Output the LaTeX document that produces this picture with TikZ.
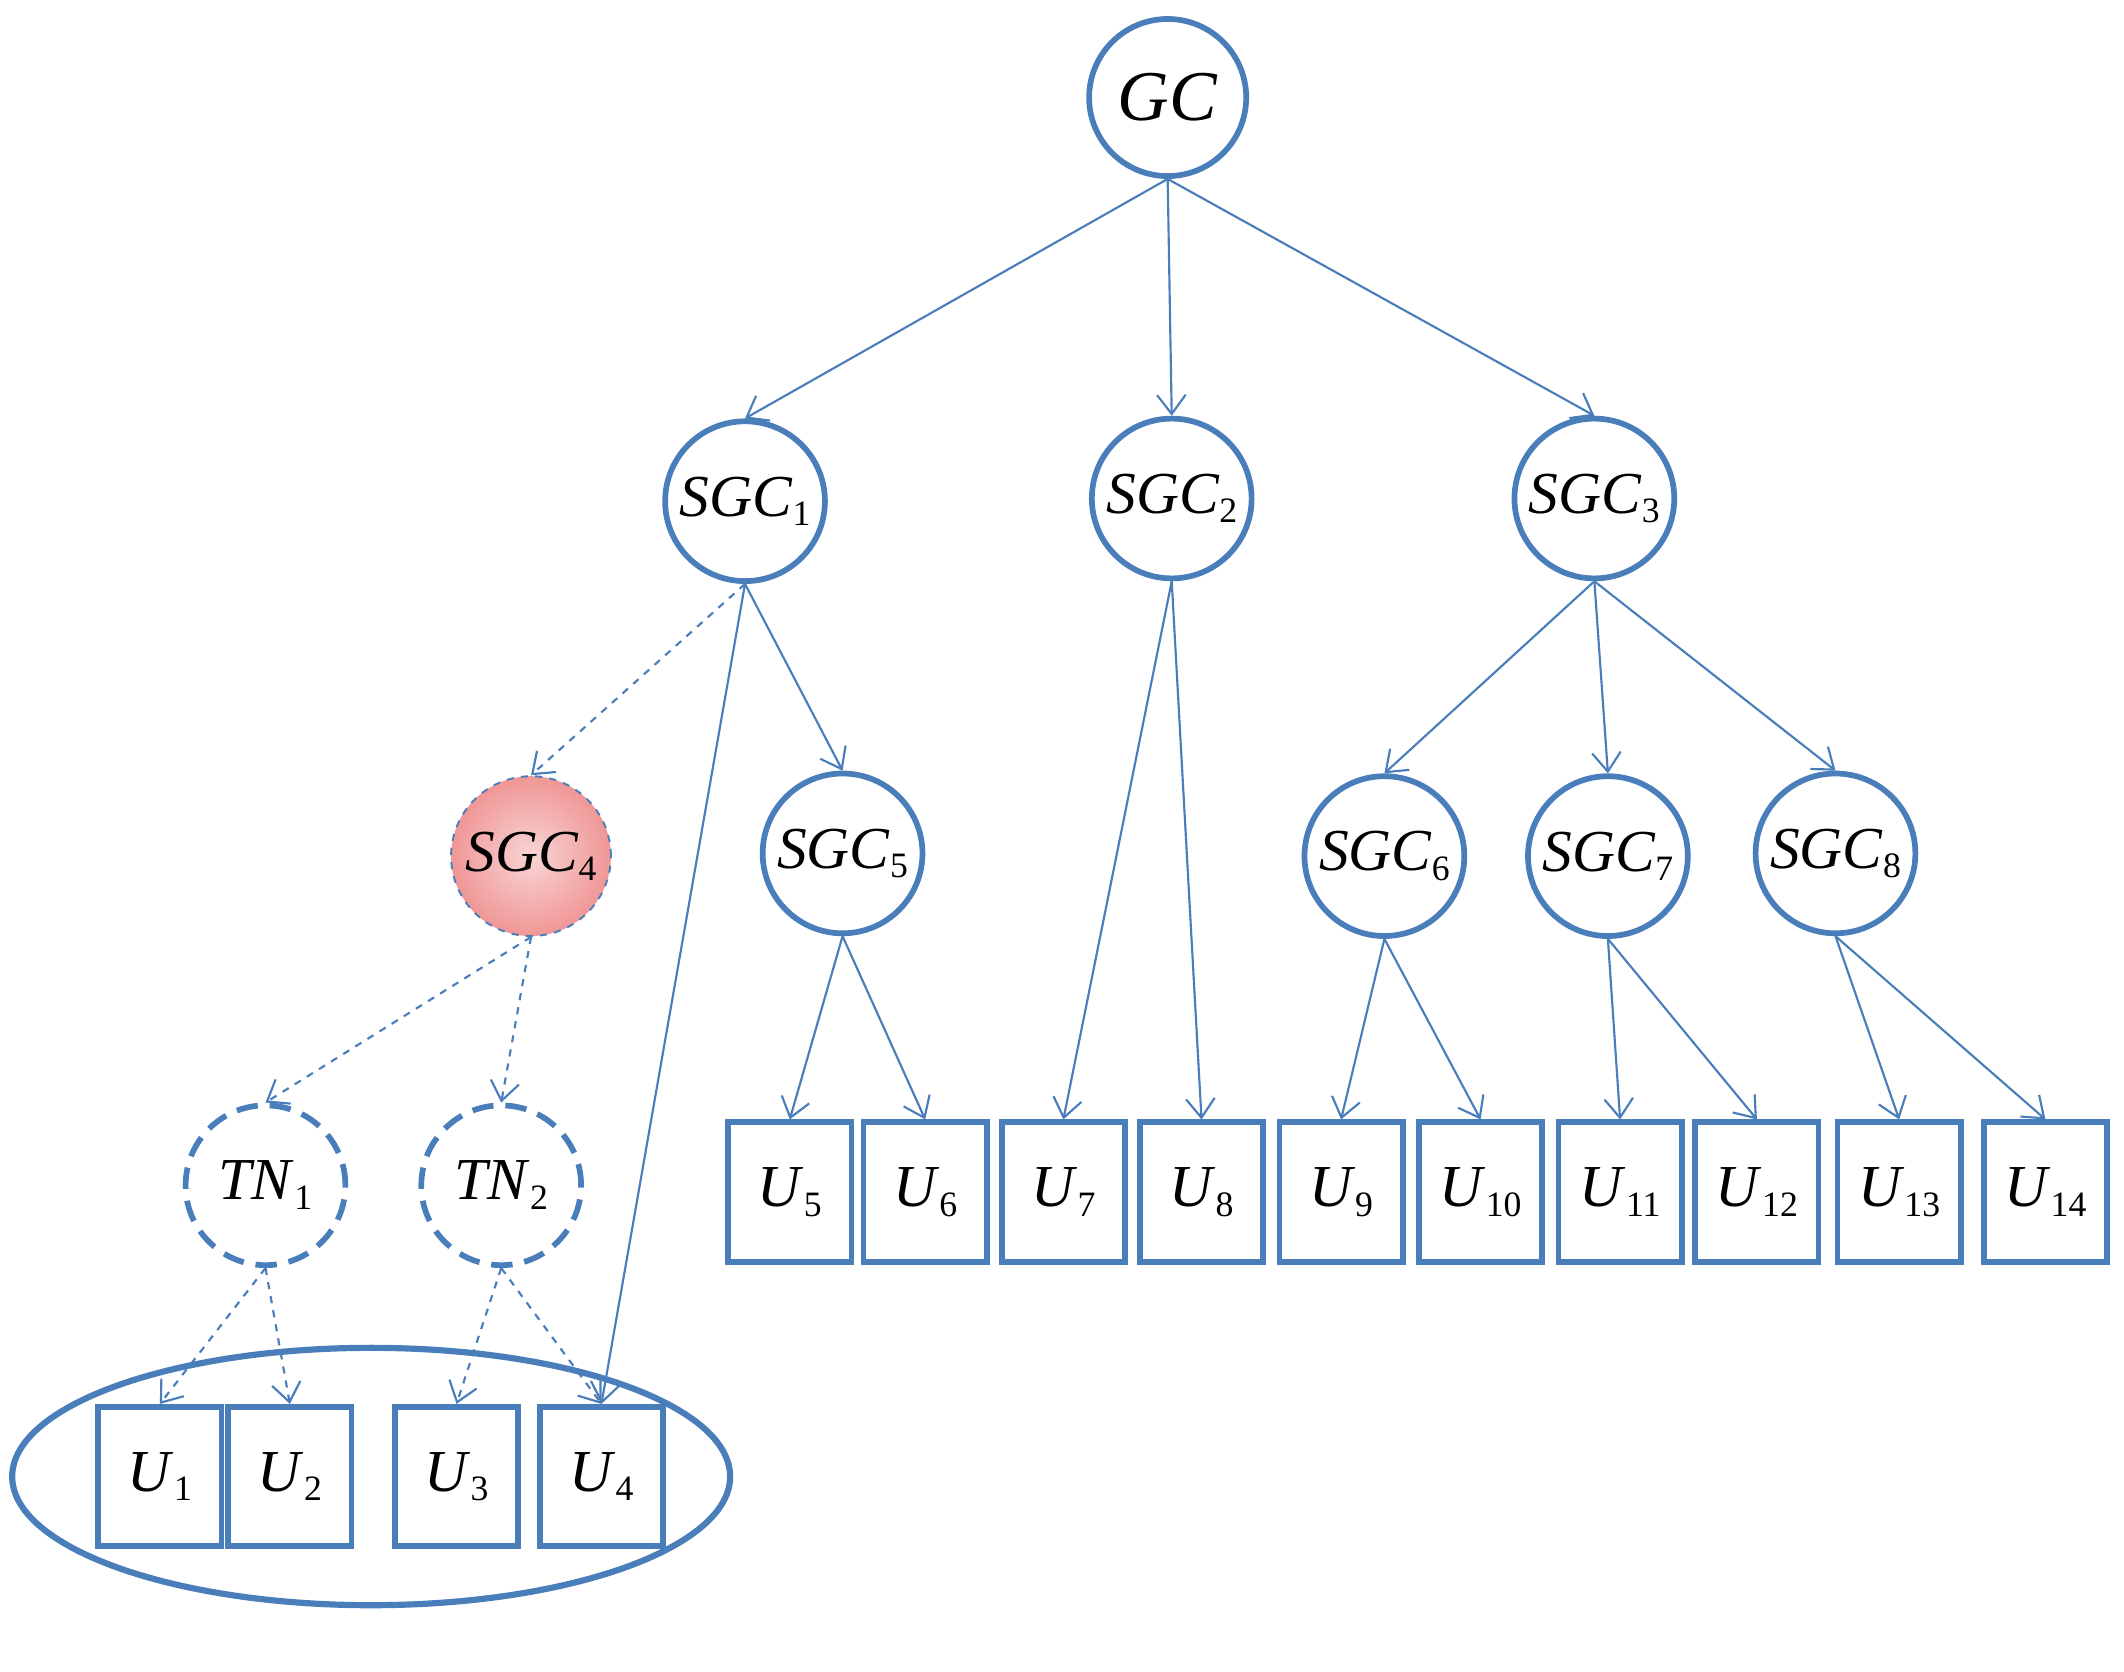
\documentclass[tikz,border=0pt]{standalone}
\usepackage{fontspec}
\setmainfont{Liberation Serif}
\usetikzlibrary{arrows.meta}
\definecolor{bl}{RGB}{74,126,187}
\definecolor{pk}{RGB}{240,150,150}
\newcommand{\lab}[2]{\textit{#1}\raisebox{-0.35ex}{\fontsize{15}{15}\selectfont #2}}
\begin{document}
\begin{tikzpicture}[x=0.02cm,y=-0.02cm,
  cir/.style={circle,draw=bl,line width=2.4pt,minimum size=2.36cm,inner sep=0pt,font=\fontsize{25}{25}\selectfont},
  box/.style={rectangle,draw=bl,line width=2.4pt,minimum width=1.82cm,minimum height=2.06cm,inner sep=0pt,font=\fontsize{25}{25}\selectfont},
  ar/.style={draw=bl,line width=0.9pt,-{Straight Barb[length=8pt,width=12pt]}},
  da/.style={ar,dashed}]
\useasboundingbox (0,0) rectangle (1568,1234);
\node[cir,minimum size=2.32cm,font=\fontsize{30}{30}\selectfont] (GC) at (862,72) {\textit{GC}};
\node[cir] (S1) at (550,370) {\lab{SGC}{1}};
\node[cir] (S2) at (865,368) {\lab{SGC}{2}};
\node[cir] (S3) at (1177,368) {\lab{SGC}{3}};
\node[cir,draw=bl,line width=0.8pt,dashed,shading=radial,inner color=white!60!pk,outer color=pk] (S4) at (392,632) {\lab{SGC}{4}};
\node[cir] (S5) at (622,630) {\lab{SGC}{5}};
\node[cir] (S6) at (1022,632) {\lab{SGC}{6}};
\node[cir] (S7) at (1187,632) {\lab{SGC}{7}};
\node[cir] (S8) at (1355,630) {\lab{SGC}{8}};
\node[cir,dash pattern=on 9pt off 5pt] (T1) at (196,875) {\lab{TN}{1}};
\node[cir,dash pattern=on 9pt off 5pt] (T2) at (370,875) {\lab{TN}{2}};
\draw[bl,line width=2.6pt] (274,1090) ellipse [x radius=265,y radius=95];
\foreach \n/\x in {1/118,2/214,3/337,4/444}
  \node[box] (U\n) at (\x,1090) {\lab{U}{\n}};
\foreach \n/\x in {5/583,6/683,7/785,8/887,9/990,10/1093,11/1196,12/1297,13/1402,14/1510}
  \node[box] (U\n) at (\x,880) {\lab{U}{\n}};
\draw[ar] (GC.south) -- (S1.north);
\draw[ar] (GC.south) -- (S2.north);
\draw[ar] (GC.south) -- (S3.north);
\draw[da] (S1.south) -- (S4.north);
\draw[ar] (S1.south) -- (U4.north);
\draw[ar] (S1.south) -- (S5.north);
\draw[ar] (S2.south) -- (U7.north);
\draw[ar] (S2.south) -- (U8.north);
\draw[ar] (S3.south) -- (S6.north);
\draw[ar] (S3.south) -- (S7.north);
\draw[ar] (S3.south) -- (S8.north);
\draw[da] (S4.south) -- (T1.north);
\draw[da] (S4.south) -- (T2.north);
\draw[ar] (S5.south) -- (U5.north);
\draw[ar] (S5.south) -- (U6.north);
\draw[ar] (S6.south) -- (U9.north);
\draw[ar] (S6.south) -- (U10.north);
\draw[ar] (S7.south) -- (U11.north);
\draw[ar] (S7.south) -- (U12.north);
\draw[ar] (S8.south) -- (U13.north);
\draw[ar] (S8.south) -- (U14.north);
\draw[da] (T1.south) -- (U1.north);
\draw[da] (T1.south) -- (U2.north);
\draw[da] (T2.south) -- (U3.north);
\draw[da] (T2.south) -- (U4.north);
\end{tikzpicture}
\end{document}
